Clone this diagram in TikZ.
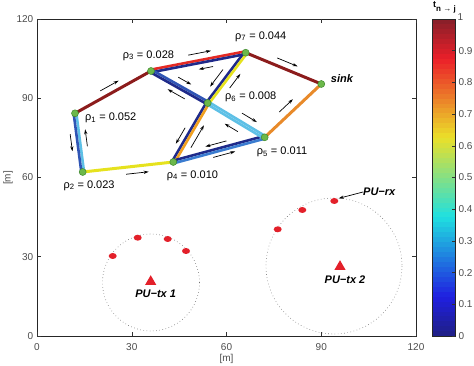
\documentclass[tikz,border=0pt]{standalone}
\usepackage{fontspec}
\setmainfont{Liberation Sans}
\usetikzlibrary{calc,arrows.meta,shapes.geometric}
\pgfdeclarelayer{bg}
\pgfsetlayers{bg,main}
\definecolor{cDarkRed}{HTML}{8C1C1C}
\definecolor{cRed}{HTML}{E42A24}
\definecolor{cNavy}{HTML}{1F2A8A}
\definecolor{cBlue}{HTML}{2F55B5}
\definecolor{cMidBlue}{HTML}{3A7CD0}
\definecolor{cLtBlue}{HTML}{5EC0E6}
\definecolor{cYellow}{HTML}{E6E21E}
\definecolor{cOrange}{HTML}{F0A020}
\definecolor{cOrangeB}{HTML}{E88A2A}
\definecolor{cGreen}{HTML}{6CB84A}
\definecolor{cGreenD}{HTML}{3F8A2E}
\definecolor{cPU}{HTML}{E3202A}
\newcommand{\dedge}[4]{%
  \draw[edgetwo,#3] ($(#1)!1.35pt!90:(#2)$) -- ($(#2)!1.35pt!-90:(#1)$);
  \draw[edgetwo,#4] ($(#1)!1.35pt!-90:(#2)$) -- ($(#2)!1.35pt!90:(#1)$);}
\newcommand{\flow}[6]{%
  \draw[flowarr] ($(#1)!#3!(#2)!#6!#5:(#2)$) -- ($(#1)!#4!(#2)!#6!#5:(#2)$);}
\begin{document}
\begin{tikzpicture}[x=1pt,y=-1pt,
  vtx/.style={circle,fill=cGreen,draw=cGreenD,line width=0.5pt,minimum size=7pt,inner sep=0pt},
  lbl/.style={font=\fontsize{11}{12}\selectfont,anchor=base west,inner sep=0pt},
  flowarr/.style={-{Stealth[length=5pt,width=3.2pt]},line width=0.7pt,black},
  edgeone/.style={line width=3pt},
  edgetwo/.style={line width=2.6pt},
  tickmark/.style={line width=0.5pt,draw=black!80},
  ticklbl/.style={font=\fontsize{10}{11}\selectfont,text=black!70,inner sep=0pt},
  rx/.style={ellipse,fill=cPU,minimum width=8pt,minimum height=6pt,inner sep=0pt},
  tx/.style={regular polygon,regular polygon sides=3,fill=cPU,minimum size=13pt,inner sep=0pt},
  pulbl/.style={font=\fontsize{11}{12}\selectfont\bfseries\itshape,inner sep=0pt},
  puRange/.style={draw=black!55,line width=0.6pt,dash pattern=on 0.6pt off 2.6pt}]
\useasboundingbox (0,0) rectangle (474,366);

% network nodes
\node[vtx] (n1) at (75,113.3) {};
\node[vtx] (n2) at (82.7,172) {};
\node[vtx] (n3) at (151,71) {};
\node[vtx] (n4) at (173.3,162) {};
\node[vtx] (n6) at (207.7,103) {};
\node[vtx] (n7) at (245.7,52.7) {};
\node[vtx] (n5) at (264.7,137.3) {};
\node[vtx] (sk) at (321.3,84) {};

\begin{pgfonlayer}{bg}
\draw[edgeone,cDarkRed] (n1.center) -- (n3.center);
\dedge{n1}{n2}{cLtBlue}{cBlue}
\draw[edgeone,cYellow] (n2.center) -- (n4.center);
\dedge{n3}{n7}{cRed}{cNavy}
\dedge{n3}{n6}{cBlue}{cNavy}
\dedge{n4}{n6}{cNavy}{cOrange}
\dedge{n6}{n7}{cNavy}{cYellow}
\dedge{n4}{n5}{cNavy}{cMidBlue}
\dedge{n6}{n5}{cLtBlue}{cLtBlue}
\draw[edgeone,cDarkRed] (n7.center) -- (sk.center);
\draw[edgeone,cOrangeB] (n5.center) -- (sk.center);
\end{pgfonlayer}

% flow arrows
\flow{n1}{n3}{0.38}{0.62}{90}{7.3pt}
\flow{n1}{n2}{0.34}{0.63}{-90}{7.5pt}
\flow{n1}{n2}{0.58}{0.29}{90}{8pt}
\flow{n2}{n4}{0.47}{0.72}{-90}{7pt}
\flow{n3}{n7}{0.41}{0.65}{90}{8.5pt}
\flow{n3}{n7}{0.64}{0.49}{-90}{7.4pt}
\flow{n3}{n6}{0.41}{0.64}{90}{8pt}
\flow{n3}{n6}{0.66}{0.36}{-90}{7.7pt}
\flow{n6}{n7}{0.57}{0.23}{90}{8pt}
\flow{n6}{n7}{0.40}{0.68}{-90}{8.5pt}
\flow{n4}{n6}{0.52}{0.25}{90}{7pt}
\flow{n4}{n6}{0.31}{0.69}{-90}{8pt}
\flow{n4}{n5}{0.60}{0.37}{90}{6.5pt}
\flow{n4}{n5}{0.42}{0.66}{-90}{6pt}
\flow{n6}{n5}{0.52}{0.78}{90}{9pt}
\flow{n6}{n5}{0.61}{0.38}{-90}{9pt}
\flow{n7}{sk}{0.38}{0.65}{90}{7.2pt}
\flow{n5}{sk}{0.36}{0.60}{90}{8.4pt}

% labels
\node[lbl] (l1) at (85,120.7) {ρ\textsubscript{1} = 0.052};
\node[lbl] (l2) at (63.3,188.3) {ρ\textsubscript{2} = 0.023};
\node[lbl] (l3) at (122.7,58.3) {ρ\textsubscript{3} = 0.028};
\node[lbl] (l4) at (166.7,178.3) {ρ\textsubscript{4} = 0.010};
\node[lbl] (l6) at (225,100) {ρ\textsubscript{6} = 0.008};
\node[lbl] (l7) at (235,39.3) {ρ\textsubscript{7} = 0.044};
\node[lbl] (l5) at (256.7,155) {ρ\textsubscript{5} = 0.011};
\node[lbl,font=\fontsize{11}{12}\selectfont\bfseries\itshape] (lsk) at (330.7,82.7) {sink};

% primary users
\draw[puRange] (151,282.5) circle[radius=48.5];
\draw[puRange] (334,266) circle[radius=68];
\node[tx] (t1) at (150.7,281.7) {};
\node[tx] (t2) at (340,266.7) {};
\node[pulbl] (pt1) at (155.7,293.3) {PU−tx 1};
\node[pulbl] (pt2) at (345,280) {PU−tx 2};
\node[rx] (r1) at (112.7,256) {};
\node[rx] (r2) at (137.7,237.7) {};
\node[rx] (r3) at (167.7,239) {};
\node[rx] (r4) at (186,251) {};
\node[rx] (r5) at (277.7,229.3) {};
\node[rx] (r6) at (302.3,210) {};
\node[rx] (r7) at (334.3,201) {};
\node[pulbl,anchor=west] (prx) at (363,192) {PU−rx};
\draw[-{Stealth[length=5pt,width=3.2pt]},line width=0.7pt,draw=black,shorten >=1.5pt] (prx.west) -- (r7.north east);

% axes
\draw[line width=0.7pt,black!85] (37,19) rectangle (416,336);
\foreach \v/\p in {0/37,30/131.75,60/226.5,90/321.25,120/416}{
  \draw[tickmark] (\p,336) -- (\p,332);
  \draw[tickmark] (\p,19) -- (\p,23);
  \node[ticklbl] (xl\v) at (\p,347) {\v};
}
\foreach \v/\p in {0/336,30/256.75,60/177.5,90/98.25,120/19}{
  \draw[tickmark] (37,\p) -- (41,\p);
  \draw[tickmark] (416,\p) -- (412,\p);
  \node[ticklbl,anchor=east] (yl\v) at (33.5,\p) {\v};
}
\node[ticklbl] (xlab) at (226.5,359) {[m]};
\node[ticklbl,rotate=90] (ylab) at (8,178) {[m]};

% colorbar
\foreach \i in {0,...,63}{
  \pgfmathsetmacro{\jt}{(\i+0.5)/64}
  \pgfmathsetmacro{\jr}{0.12+0.8*min(1,max(0,1.5-abs(4*\jt-3)))}
  \pgfmathsetmacro{\jg}{0.12+0.76*min(1,max(0,1.5-abs(4*\jt-2)))}
  \pgfmathsetmacro{\jb}{0.16+0.72*min(1,max(0,1.5-abs(4*\jt-1)))}
  \definecolor{jc}{rgb}{\jr,\jg,\jb}
  \fill[jc] (432.7,{336-\i*4.953+0.3}) rectangle (455.3,{336-(\i+1)*4.953-0.3});
}
\draw[line width=0.6pt,black!85] (432.7,19) rectangle (455.3,336);
\foreach \lab [count=\k from 0] in {0,0.1,0.2,0.3,0.4,0.5,0.6,0.7,0.8,0.9}{
  \draw[tickmark] (455.3,{336-\k*31.7}) -- (452.3,{336-\k*31.7});
  \node[ticklbl,anchor=west] (cb\k) at (458.3,{336-\k*31.7}) {\lab};
}
\node[ticklbl,anchor=west] (cbtop) at (457.5,17) {1};
\node[font=\fontsize{9}{10}\selectfont\bfseries,inner sep=0pt,anchor=north west] (cbt) at (433,1.5) {t\raisebox{-3.5pt}{\fontsize{8}{9}\selectfont n → j}};
\end{tikzpicture}
\end{document}
